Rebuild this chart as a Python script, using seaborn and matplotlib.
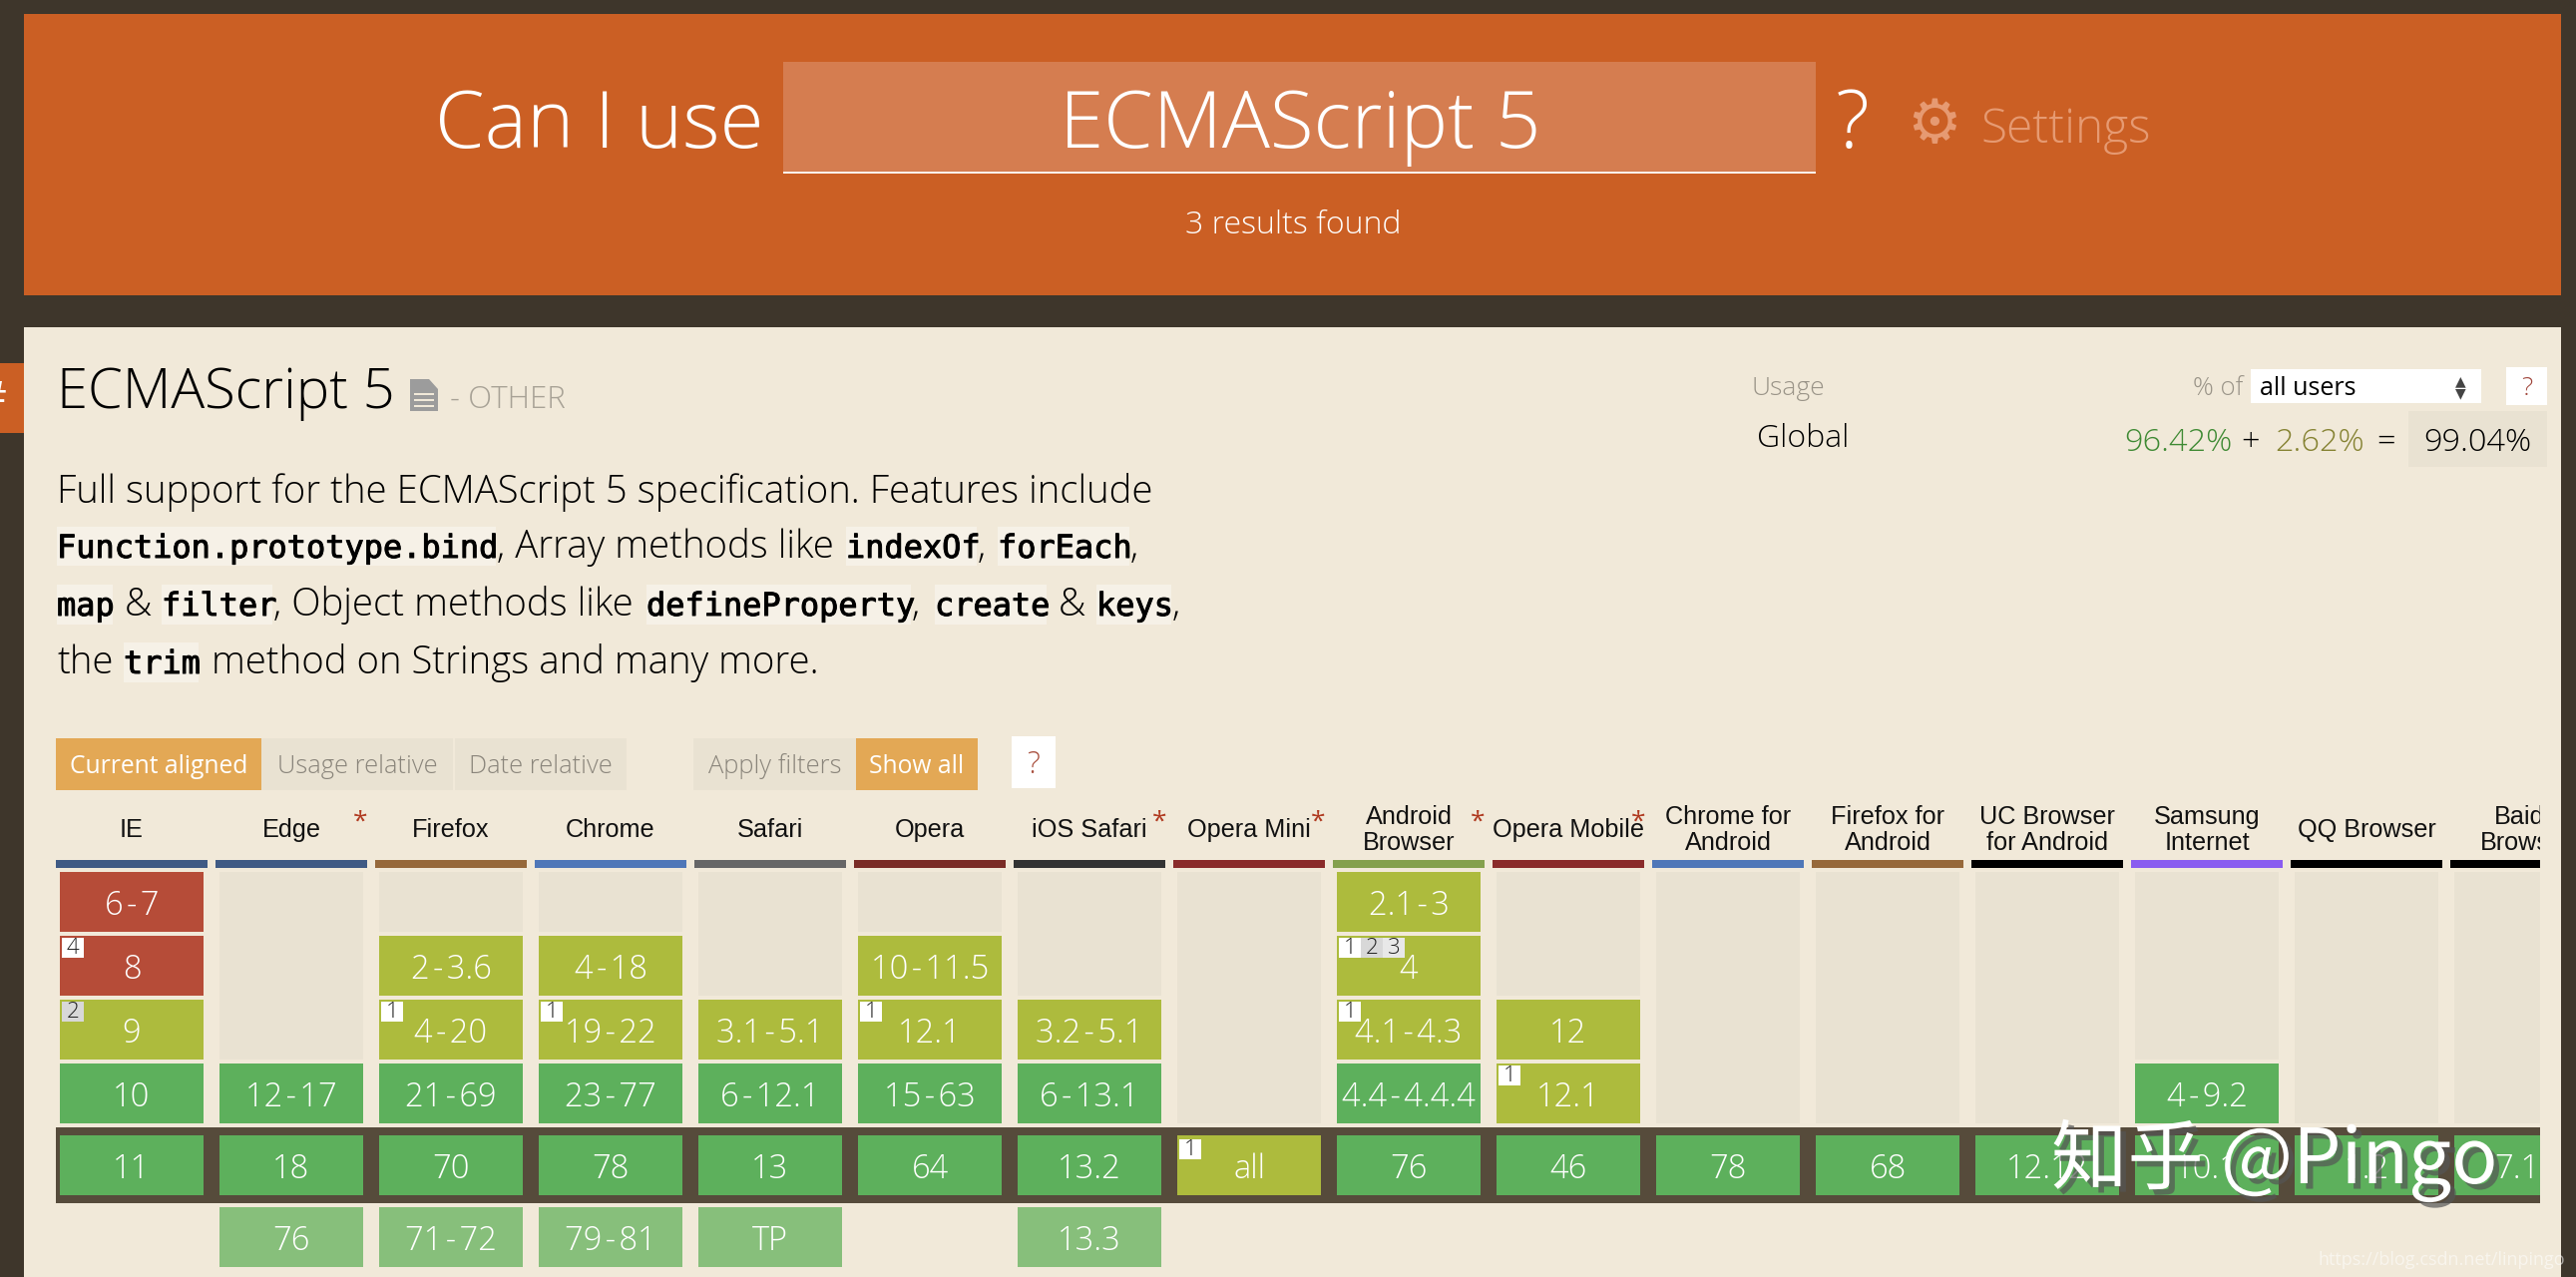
import numpy as np
import matplotlib
matplotlib.use("Agg")
import matplotlib.pyplot as plt
from matplotlib.colors import ListedColormap
from matplotlib.patches import Rectangle, Polygon
import matplotlib.patheffects as pe
import seaborn as sns

# ---- data ----
browsers = ["IE", "Edge", "Firefox", "Chrome", "Safari", "Opera", "iOS Safari", "Opera Mini",
            "Android\nBrowser", "Opera Mobile", "Chrome for\nAndroid", "Firefox for\nAndroid",
            "UC Browser\nfor Android", "Samsung\nInternet", "QQ Browser", "Baidu\nBrowser"]
starred = ["Edge", "iOS Safari", "Opera Mini", "Android\nBrowser", "Opera Mobile"]
star_x = [361, 1162, 1321, 1481, 1642]
bar_colors = ["#3f5a84", "#3f5a84", "#96683a", "#4f77b8", "#666666", "#7a2c26", "#333333", "#8a2b2a",
              "#84a04d", "#8a2b2a", "#4f77b8", "#96683a", "#000000", "#8a5cf0", "#000000", "#000000"]
# status: 0 empty, 1 unsupported, 2 partial, 3 supported, 4 future supported
past_status = [
    [1, 0, 0, 0, 0, 0, 0, 0, 2, 0, 0, 0, 0, 0, 0, 0],
    [1, 0, 2, 2, 0, 2, 0, 0, 2, 0, 0, 0, 0, 0, 0, 0],
    [2, 0, 2, 2, 2, 2, 2, 0, 2, 2, 0, 0, 0, 0, 0, 0],
    [3, 3, 3, 3, 3, 3, 3, 0, 3, 2, 0, 0, 0, 3, 0, 0],
]
past_labels = [
    ["6-7", "", "", "", "", "", "", "", "2.1-3", "", "", "", "", "", "", ""],
    ["8", "", "2-3.6", "4-18", "", "10-11.5", "", "", "4", "", "", "", "", "", "", ""],
    ["9", "", "4-20", "19-22", "3.1-5.1", "12.1", "3.2-5.1", "", "4.1-4.3", "12", "", "", "", "", "", ""],
    ["10", "12-17", "21-69", "23-77", "6-12.1", "15-63", "6-13.1", "", "4.4-4.4.4", "12.1", "", "", "", "4-9.2", "", ""],
]
current_status = [[3, 3, 3, 3, 3, 3, 3, 2, 3, 3, 3, 3, 3, 3, 3, 3]]
current_labels = [["11", "18", "70", "78", "13", "64", "13.2", "all", "76", "46", "78", "68", "12.12", "10.1", "1.2", "7.12"]]
future_status = [[0, 4, 4, 4, 4, 0, 4, 0, 0, 0, 0, 0, 0, 0, 0, 0]]
future_labels = [["", "76", "71-72", "79-81", "TP", "", "13.3", "", "", "", "", "", "", "", "", ""]]
# notes: (column, row, number)
past_notes = [(0, 1, "4"), (0, 2, "2"), (2, 2, "1"), (3, 2, "1"), (5, 2, "1"),
              (8, 1, "1"), (8, 1, "2"), (8, 1, "3"), (8, 2, "1"), (9, 3, "1")]
current_notes = [(7, 0, "1")]
note_fill = {"1": "#ffffff", "2": "#d8d8d8", "3": "#e8e8e8", "4": "#ffffff"}
usage_values = ["96.42%", "2.62%", "99.04%"]

# ---- colours ----
DARK = "#3e362b"
PANEL = "#f1e9d9"
ORANGE = "#cb5f24"
EMPTY = "#e9e2d2"
BAND = "#564b3b"
BTN = "#e3a855"
RED, OLIVE, GREEN, LIGHT = "#b64c38", "#adbb3d", "#5db05c", "#87bf7b"

sns.set_theme(style="white")
OS = ["Open Sans", "DejaVu Sans"]
plt.rcParams["font.family"] = OS

W, H = 2582, 1280
fig = plt.figure(figsize=(W / 100, H / 100), dpi=100, facecolor=DARK)
PT = 0.72


def px_axes(x0, y0, x1, y1, z):
    a = fig.add_axes([x0 / W, 1 - y1 / H, (x1 - x0) / W, (y1 - y0) / H], zorder=z)
    return a


# background layer in pixel coordinates
bg = px_axes(0, 0, W, H, 0)
bg.set_xlim(0, W); bg.set_ylim(H, 0); bg.axis("off")
fg = px_axes(0, 0, W, H, 5)
fg.set_xlim(0, W); fg.set_ylim(H, 0); fg.axis("off"); fg.patch.set_alpha(0)


def box(x0, y0, x1, y1, c, a=bg, z=1):
    a.add_patch(Rectangle((x0, y0), x1 - x0, y1 - y0, facecolor=c, edgecolor="none", zorder=z))


def txt(x, y, s, size, c="black", ha="left", va="baseline", weight="light", fam=None, a=bg, **k):
    return a.text(x, y, s, fontsize=size, color=c, ha=ha, va=va, fontweight=weight,
                  family=fam if fam else OS, zorder=4, **k)


box(24, 14, 2567, 296, ORANGE)
box(24, 328, 2567, 1280, PANEL)
box(0, 364, 24, 434, ORANGE)
txt(7, 412, "#", 30, "white", ha="right", weight="normal")

# search header
box(785, 62, 1820, 172, "#d57d50")
box(785, 172, 1820, 174, "#fbf3ea")
txt(436, 148, "Can I use", 57.6, "white")
txt(1303, 148, "ECMAScript 5", 57.6, "white", ha="center")
txt(1840, 148, "?", 58, "white")
txt(1939, 127, "\u2699", 44, "#e69a72", ha="center", va="center", weight="normal", fam=["DejaVu Sans"])
txt(1985, 143, "Settings", 34.5, "#e69a72")
txt(1296, 234, "3 results found", 23, "white", ha="center")

# feature title
txt(57, 409, "ECMAScript 5", 40.5, "black")
bg.add_patch(Polygon([(411, 380), (430, 380), (439, 390), (439, 412), (411, 412)], closed=True,
                     facecolor="#9c9c9c", edgecolor="none", zorder=2))
for yy in (394, 400, 406):
    box(415, yy, 435, yy + 2, PANEL, z=3)
txt(451, 409, "- OTHER", 22.5, "#a8a296")

# description
code_runs = [(57, 528, 497, 567, "Function.prototype.bind", 559),
             (848, 528, 979, 567, "indexOf", 559),
             (1000, 528, 1132, 567, "forEach", 559),
             (57, 586, 113, 626, "map", 617),
             (162, 586, 273, 626, "filter", 617),
             (648, 586, 913, 626, "defineProperty", 617),
             (937, 586, 1049, 626, "create", 617),
             (1099, 586, 1174, 626, "keys", 617),
             (124, 644, 199, 684, "trim", 675)]
for x0, y0, x1, y1, s, base in code_runs:
    box(x0, y0, x1, y1, "#f6f1e7", z=2)
    txt(x0, base, s, 23, "black", weight="normal", fam=["DejaVu Sans Mono"],
        path_effects=[pe.withStroke(linewidth=0.7, foreground="black")])
plain_runs = [(57, 504, "Full support for the ECMAScript 5 specification. Features include"),
              (498, 559, ", Array methods like"), (980, 559, ","), (1133, 559, ","),
              (125, 617, "&"), (274, 617, ", Object methods like"), (914, 617, ","),
              (1061, 617, "&"), (1175, 617, ","),
              (57, 675, "the"), (212, 675, "method on Strings and many more.")]
for x0, base, s in plain_runs:
    txt(x0, base, s, 27.6, "black")

# usage block
txt(1755, 396, "Usage", 19, "#9a9488")
txt(2248, 396, "% of", 18.5, "#9a9488", ha="right")
box(2256, 370, 2487, 404, "white")
txt(2265, 396, "all users", 18, "black", weight="normal")
txt(2466, 382, "\u25B2", 10, "#444444", ha="center", va="center", weight="normal", fam=["DejaVu Sans"])
txt(2466, 394, "\u25BC", 10, "#444444", ha="center", va="center", weight="normal", fam=["DejaVu Sans"])
box(2512, 368, 2553, 406, "white")
txt(2533, 396, "?", 19, "#a0463c", ha="center")
txt(1761, 448, "Global", 23, "black")
txt(2129, 452, usage_values[0], 23.4, "#3f8a34")
txt(2256, 452, "+", 23.4, "black", ha="center")
txt(2280, 452, usage_values[1], 23.4, "#858232")
txt(2391, 452, "=", 23.4, "black", ha="center")
box(2414, 412, 2553, 468, EMPTY)
txt(2483, 452, usage_values[2], 23.4, "black", ha="center")

# buttons
buttons = [(56, 262, "Current aligned", True), (262, 454, "Usage relative", False),
           (456, 628, "Date relative", False), (695, 858, "Apply filters", False),
           (858, 980, "Show all", True)]
for x0, x1, s, on in buttons:
    box(x0, 740, x1, 792, BTN if on else EMPTY)
    txt((x0 + x1) / 2, 775, s, 17.7 if on else 18.4, "white" if on else "#8a857b", ha="center",
        weight="normal" if on else "light")
box(1014, 738, 1058, 790, "white")
txt(1036, 775, "?", 22, "#a9503f", ha="center")

# browser headers
clip = Rectangle((0, 0), 2546, H, transform=bg.transData)
for i, b in enumerate(browsers):
    cx = 132 + 160 * i
    t = bg.text(cx, 832, b, fontsize=18.2, color="#111111", ha="center", va="center", family="Liberation Sans",
                linespacing=1.12, zorder=4)
    t.set_clip_path(clip)
    t.set_clip_on(True)
for x in star_x:
    txt(x, 824, "*", 19, "#b03a20", ha="center", va="center", weight="normal")

XMAX = (2546 - 52) / 160


def grid(ax, status, labels, palette, gap_c, merge_empty, notes, note_dy):
    st = np.array(status)
    lb = np.array(labels, dtype=object)
    for r in range(lb.shape[0]):
        for c in range(lb.shape[1]):
            lb[r, c] = lb[r, c].replace("-", "\u200a-\u200a")
    sns.heatmap(st, ax=ax, cmap=ListedColormap(palette), vmin=-0.5, vmax=4.5, cbar=False,
                xticklabels=False, yticklabels=False, annot=lb, fmt="",
                annot_kws=dict(fontsize=23.5, color="white", family=OS, fontweight="light",
                               clip_on=True, va="center_baseline"))
    nrow, ncol = st.shape
    if nrow > 1:
        for k in range(nrow + 1):
            for c in range(ncol):
                above = st[k - 1, c] if k > 0 else 9
                below = st[k, c] if k < nrow else 9
                if not (merge_empty and above == 0 and below == 0):
                    ax.hlines(k, c, c + 1, colors=PANEL, linewidth=4 * PT, zorder=2)
    ax.vlines(range(ncol + 1), 0, nrow, colors=gap_c, linewidth=16 * PT, zorder=2)
    ax.set_xlim(0, XMAX)
    used = {}
    for c, r, n in notes:
        k = used.get((c, r), 0)
        used[(c, r)] = k + 1
        x = c + (10 + 22 * k) / 160
        h = 20 / (ax.get_window_extent().height / nrow)
        y = r + note_dy
        ax.add_patch(Rectangle((x, y), 22 / 160, h, facecolor=note_fill[n], edgecolor="none", zorder=3))
        ax.text(x + 11 / 160, y + h / 2, n, fontsize=16, color="#222222", ha="center", va="center",
                family=OS, fontweight="light", zorder=4)


# header colour strip
strip = px_axes(52, 862, 2546, 870, 2)
sns.heatmap(np.arange(len(bar_colors)).reshape(1, -1), ax=strip, cmap=ListedColormap(bar_colors), cbar=False,
            xticklabels=False, yticklabels=False)
strip.vlines(range(len(bar_colors) + 1), 0, 1, colors=PANEL, linewidth=8 * PT, zorder=2)
strip.set_xlim(0, XMAX)

# past versions
ax1 = px_axes(52, 872, 2546, 1128, 2)
grid(ax1, past_status, past_labels, [EMPTY, RED, OLIVE, GREEN, LIGHT], PANEL, True, past_notes, 4 / 64)

# current version band
box(56, 1130, 2546, 1206, BAND)
ax2 = px_axes(52, 1138, 2546, 1198, 2)
ax2.patch.set_alpha(0)
grid(ax2, current_status, current_labels, [EMPTY, RED, OLIVE, GREEN, LIGHT], BAND, False, current_notes, 4 / 60)
box(52, 1130, 56, 1206, PANEL, a=fg)

# future versions
ax3 = px_axes(52, 1210, 2546, 1270, 2)
grid(ax3, future_status, future_labels, [PANEL, RED, OLIVE, GREEN, LIGHT], PANEL, False, [], 0)

# watermarks
CJK = ["Noto Sans CJK SC", "DejaVu Sans"]
fg.text(2056, 1186, "知乎 @Pingo", fontsize=55, color="white", family=CJK, ha="left", va="baseline", zorder=6,
        path_effects=[pe.withSimplePatchShadow(offset=(4, -4), shadow_rgbFace="#555555", alpha=0.7)])
fg.text(2571, 1268, "https://blog.csdn.net/linpingo", fontsize=13, color="white", alpha=0.55, family=OS, ha="right",
        va="baseline", zorder=6)

fig.savefig("out.png", dpi=100, facecolor=DARK)
